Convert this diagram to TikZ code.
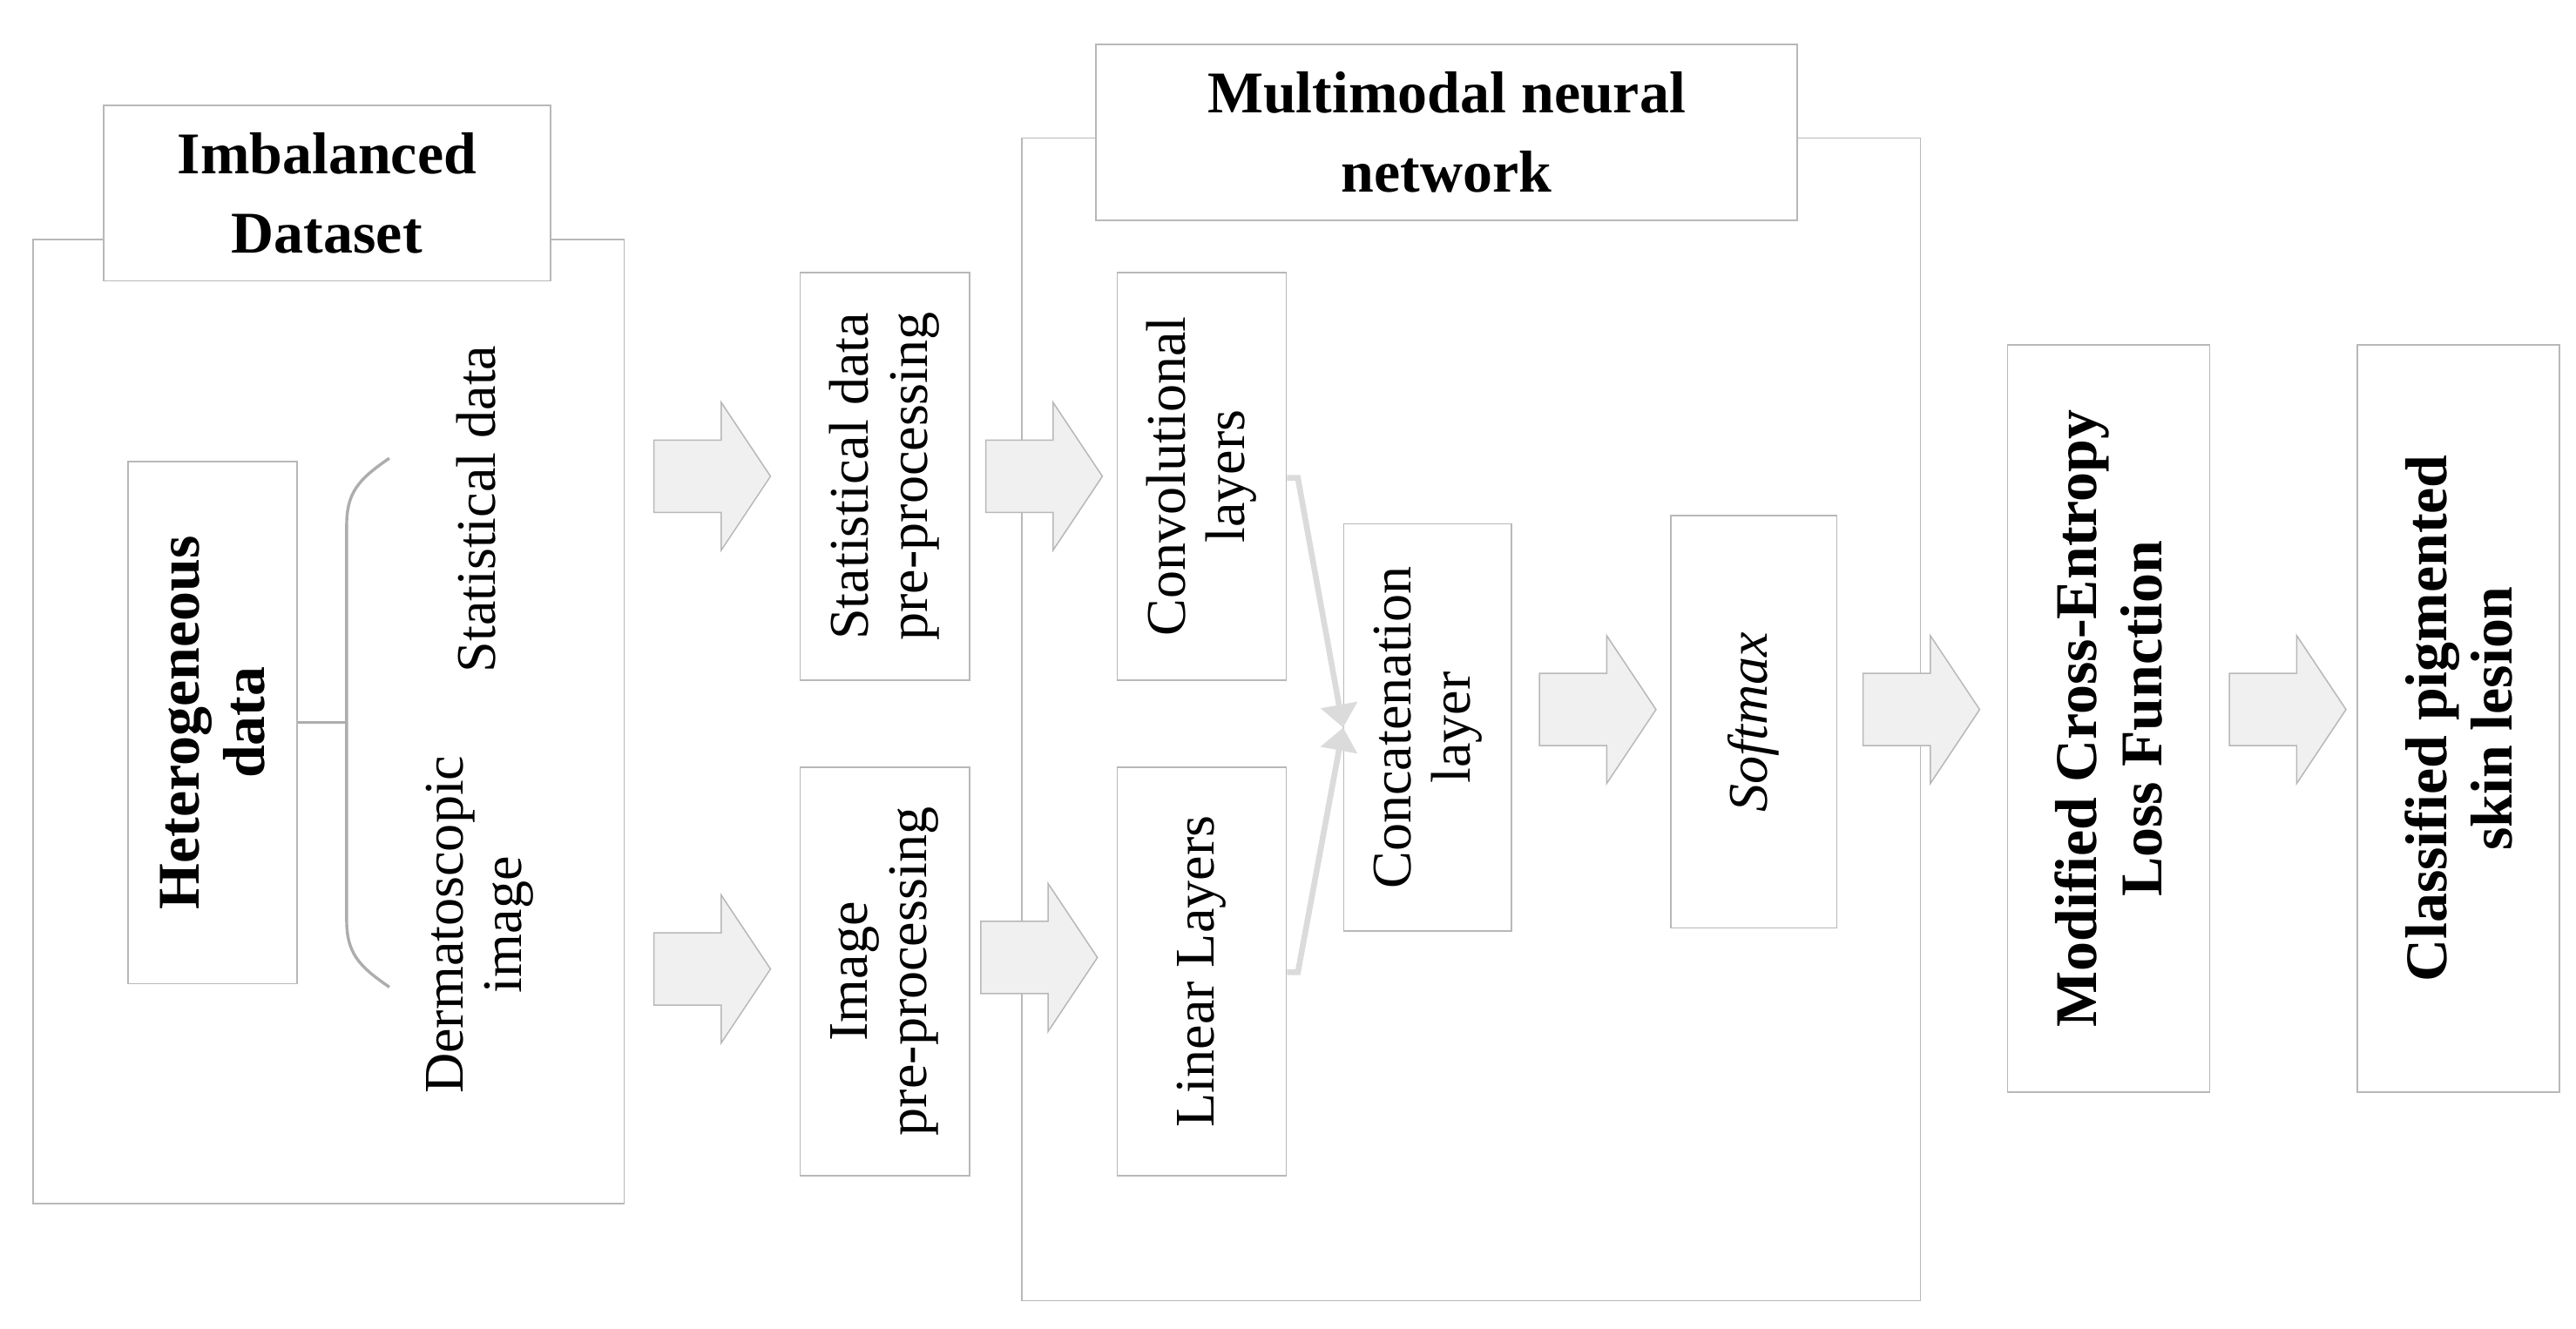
\documentclass[tikz,border=0pt]{standalone}
\usepackage{fontspec}
\setmainfont{Liberation Serif}
\usetikzlibrary{arrows.meta}
\begin{document}
\begin{tikzpicture}[x=1pt,y=-1pt,
  box/.style={draw=black!28,line width=0.9pt,fill=white,inner sep=0pt},
  rbox/.style={box,rotate=90,align=center,font=\fontsize{34}{36}\selectfont},
  bbox/.style={box,rotate=90,align=center,font=\fontsize{36}{40}\selectfont\bfseries},
  title/.style={box,align=center,font=\fontsize{36}{48}\selectfont\bfseries},
  barrow/.style={draw=black!28,line width=0.8pt,fill=black!6},
  fat/.style={draw=black!14,line width=3.5pt,-{Triangle[length=14pt,width=22pt]}},
  thin/.style={draw=black!32,line width=1.8pt}]
\useasboundingbox (0,0) rectangle (1568,809);
\newcommand{\barw}[2]{\draw[barrow] (#1,#2-22) -- (#1+41,#2-22) -- (#1+41,#2-45) -- (#1+71,#2) -- (#1+41,#2+45) -- (#1+41,#2+22) -- (#1,#2+22) -- cycle;}
% left group
\node[box,minimum width=360,minimum height=587] (imb) at (200,439.5) {};
\node[title,minimum width=272,minimum height=107] (imbt) at (199,117.5) {Imbalanced\\Dataset};
\node[bbox,minimum width=318,minimum height=103] (het) at (129.5,440) {Heterogeneous\\data};
\coordinate (bm) at (211,440);
\draw[thin] (het.south) -- (bm);
\draw[thin] (237,279) .. controls (218,292) and (211,300) .. (211,320) -- (211,560) .. controls (211,580) and (218,588) .. (237,601);
\node[rotate=90,font=\fontsize{34}{36}\selectfont] (stat) at (290,310) {Statistical data};
\node[rotate=90,align=center,font=\fontsize{34}{36}\selectfont] (derm) at (292,563) {Dermatoscopic\\image};
\barw{398}{290}
\barw{398}{590}
% preprocessing
\node[rbox,minimum width=248,minimum height=103] (spp) at (538.5,290) {Statistical data\\pre-processing};
\node[rbox,minimum width=249,minimum height=103] (ipp) at (538.5,591.5) {Image\\pre-processing};
% multimodal
\node[box,minimum width=547,minimum height=708] (mm) at (895.5,438) {};
\node[title,minimum width=427,minimum height=107] (mmt) at (880.5,80.5) {Multimodal neural\\network};
\barw{600}{290}
\barw{597}{583}
\node[rbox,minimum width=248,minimum height=103] (conv) at (731.5,290) {Convolutional\\layers};
\node[rbox,minimum width=249,minimum height=103] (lin) at (731.5,591.5) {Linear Layers};
\node[rbox,minimum width=248,minimum height=102] (cat) at (869,443) {Concatenation\\layer};
\node[rbox,minimum width=251,minimum height=101] (soft) at (1067.5,439.5) {\itshape Softmax};
\draw[fat] (conv.south |- 0,291) -- (790,291) -- (cat.north);
\draw[fat] (lin.south |- 0,592) -- (790,592) -- (cat.north);
\barw{937}{432}
\barw{1134}{432}
\node[bbox,minimum width=455,minimum height=123] (mod) at (1283.5,437.5) {Modified Cross-Entropy\\Loss Function};
\barw{1357}{432}
\node[bbox,minimum width=455,minimum height=123] (cls) at (1496.5,437.5) {Classified pigmented\\skin lesion};
\end{tikzpicture}
\end{document}
